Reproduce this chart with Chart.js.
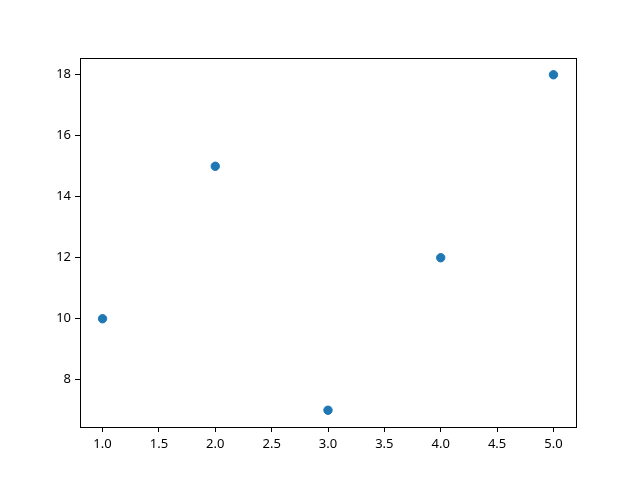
<!DOCTYPE html>
<html>
<head>
<meta charset="utf-8">
<script src="https://cdn.jsdelivr.net/npm/chart.js@4/dist/chart.umd.min.js"></script>
<style>
  html, body { margin: 0; padding: 0; background: #fff; }
  #wrap { width: 640px; height: 480px; }
</style>
</head>
<body>
<div id="wrap"><canvas id="scatterChart"></canvas></div>
<script>
const xValues = [1, 2, 3, 4, 5];
const yValues = [10, 15, 7, 12, 18];
const xTicks = [1.0, 1.5, 2.0, 2.5, 3.0, 3.5, 4.0, 4.5, 5.0];
const yTicks = [8, 10, 12, 14, 16, 18];

const points = xValues.map((x, i) => ({ x: x, y: yValues[i] }));

const frame = {
  id: 'frame',
  afterDraw(chart) {
    const a = chart.chartArea;
    const ctx = chart.ctx;
    ctx.save();
    ctx.strokeStyle = '#000';
    ctx.lineWidth = 1;
    ctx.strokeRect(Math.round(a.left) + 0.5, Math.round(a.top) + 0.5,
      Math.round(a.right - a.left), Math.round(a.bottom - a.top));
    ctx.restore();
  }
};

const axisCommon = {
  type: 'linear',
  border: { display: false },
  grid: {
    drawOnChartArea: false,
    drawTicks: true,
    tickLength: 5,
    tickWidth: 1,
    tickColor: '#000'
  },
  ticks: {
    color: '#000',
    padding: 4,
    font: { family: 'Noto Sans', size: 13 }
  }
};

new Chart(document.getElementById('scatterChart'), {
  type: 'scatter',
  data: {
    datasets: [{
      data: points,
      backgroundColor: '#1f77b4',
      borderColor: '#1f77b4',
      pointRadius: 4.2,
      pointHoverRadius: 4.2
    }]
  },
  options: {
    responsive: true,
    maintainAspectRatio: false,
    animation: false,
    layout: { padding: { left: 0, right: 64, top: 58, bottom: 0 } },
    plugins: { legend: { display: false }, tooltip: { enabled: false } },
    scales: {
      x: {
        ...axisCommon,
        min: 0.8,
        max: 5.2,
        afterBuildTicks: (s) => { s.ticks = xTicks.map(v => ({ value: v })); },
        afterFit: (s) => { s.height = 53; },
        ticks: { ...axisCommon.ticks, callback: (v) => Number(v).toFixed(1), maxRotation: 0 }
      },
      y: {
        ...axisCommon,
        min: 6.45,
        max: 18.55,
        afterBuildTicks: (s) => { s.ticks = yTicks.map(v => ({ value: v })); },
        afterFit: (s) => { s.width = 80; },
        ticks: { ...axisCommon.ticks, callback: (v) => String(v) }
      }
    }
  },
  plugins: [frame]
});
</script>
</body>
</html>
